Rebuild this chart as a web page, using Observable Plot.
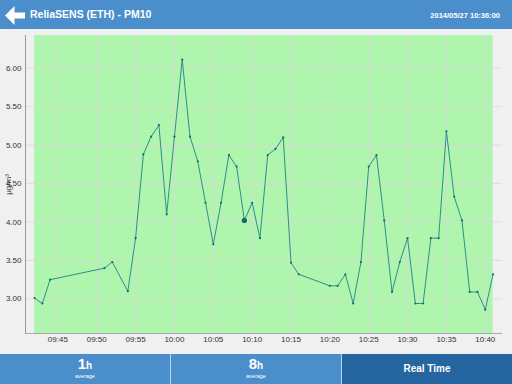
<!DOCTYPE html>
<html><head><meta charset="utf-8">
<script src="https://cdn.jsdelivr.net/npm/d3@7"></script>
<script src="https://cdn.jsdelivr.net/npm/@observablehq/plot@0.6"></script>
<style>
body{margin:0;width:512px;height:384px;overflow:hidden;background:#f0f0f0;font-family:"Liberation Sans",Arial,Helvetica,sans-serif;position:relative}
#hdr{position:absolute;left:0;top:0;width:512px;height:29px;background:#4a8fcc;color:#fff}
#title{position:absolute;left:30px;top:8px;font-size:10.5px;font-weight:bold;white-space:nowrap}
#date{position:absolute;right:12px;top:11px;font-size:7.5px;font-weight:bold;white-space:nowrap}
#arrow{position:absolute;left:5px;top:6px}
#chart{position:absolute;left:0;top:35px}
#bar{position:absolute;left:0;top:354px;width:512px;height:30px;display:flex}
.btn{height:30px;background:#4a8fcc;color:#fff;text-align:center;position:relative;font-weight:bold}
.b1{width:170px;border-right:1px solid #b9d3ea}
.b2{width:170px;border-right:1px solid #b9d3ea}
.b3{flex:1;background:#2565a0}
.big{position:absolute;left:0;right:0;top:2px;font-size:15px;line-height:16px}
.big span{font-size:10px}
.small{position:absolute;left:0;right:0;top:19px;font-size:5.5px;font-weight:normal}
.rt{position:absolute;left:0;right:0;top:9px;font-size:10px}
</style></head>
<body>
<div id="hdr">
<svg id="arrow" width="20" height="19" viewBox="0 0 20 19"><path d="M9.5 0 L0 9.5 L9.5 19 L9.5 12.5 L20 12.5 L20 6.5 L9.5 6.5 Z" fill="#fff"/></svg>
<div id="title">ReliaSENS (ETH) - PM10</div>
<div id="date">2014/05/27 10:36:00</div>
</div>
<div id="chart"></div>
<div id="bar">
<div class="btn b1"><div class="big">1<span>h</span></div><div class="small">average</div></div>
<div class="btn b2"><div class="big">8<span>h</span></div><div class="small">average</div></div>
<div class="btn b3"><div class="rt">Real Time</div></div>
</div>
<script>
const times = ["09:42","09:43","09:44","09:51","09:52","09:54","09:55","09:56","09:57","09:58","09:59","10:00","10:01","10:02","10:03","10:04","10:05","10:06","10:07","10:08","10:09","10:10","10:11","10:12","10:13","10:14","10:15","10:16","10:20","10:21","10:22","10:23","10:24","10:25","10:26","10:27","10:28","10:29","10:30","10:31","10:32","10:33","10:34","10:35","10:36","10:37","10:38","10:39","10:40","10:41"];
const values = [3.01,2.94,3.25,3.40,3.48,3.10,3.79,4.88,5.11,5.26,4.10,5.11,6.11,5.11,4.79,4.25,3.71,4.25,4.87,4.72,4.02,4.25,3.79,4.87,4.95,5.10,3.47,3.32,3.17,3.17,3.32,2.94,3.48,4.72,4.87,4.02,3.09,3.48,3.79,2.94,2.94,3.79,3.79,5.18,4.33,4.02,3.09,3.09,2.86,3.32];
const highlightTime = "10:09";
const yTicks = [3.0,3.5,4.0,4.5,5.0,5.5,6.0];
const yLabel = "µg/m³";

const toDate = s => { const [h,m] = s.split(":").map(Number); return new Date(Date.UTC(2014,4,27,h,m,0)); };
const data = times.map((t,i) => ({t: toDate(t), v: values[i]}));
const hi = data.filter((d,i) => times[i] === highlightTime);
const yDomain = [2.55, 6.425];
const xDomain = [new Date(Date.UTC(2014,4,27,9,40,50)), new Date(Date.UTC(2014,4,27,10,42,13))];

const plot = Plot.plot({
  width: 512, height: 315,
  marginLeft: 25, marginRight: 10, marginTop: 0, marginBottom: 17,
  style: {background: "transparent", fontFamily: "Liberation Sans, Arial, sans-serif", fontSize: "8px", color: "#333"},
  x: {type: "utc", domain: xDomain},
  y: {domain: yDomain},
  marks: [
    Plot.rect([0], {x1: () => data[0].t, x2: () => data[data.length-1].t, y1: () => yDomain[0], y2: () => yDomain[1], fill: "#b0f5ae"}),
    Plot.gridX(d3.utcMinute.every(5).range(xDomain[0], xDomain[1]), {stroke: "#d8d8d8", strokeOpacity: 0.8}),
    Plot.gridY(yTicks, {stroke: "#d8d8d8", strokeOpacity: 0.8}),
    Plot.axisX(d3.utcMinute.every(5).range(xDomain[0], xDomain[1]), {tickFormat: d3.utcFormat("%H:%M"), tickSize: 0, tickPadding: 3, label: null, fill: "#333"}),
    Plot.axisY(yTicks, {tickFormat: d3.format(".2f"), tickSize: 0, tickPadding: 4, label: yLabel, labelAnchor: "center", labelArrow: "none", labelOffset: 20, fill: "#333"}),
    Plot.ruleX([xDomain[0]], {stroke: "#999", strokeWidth: 1}),
    Plot.ruleY([yDomain[0]], {stroke: "#aaa", strokeWidth: 1}),
    Plot.line(data, {x: "t", y: "v", stroke: "#2b8f8c", strokeWidth: 1}),
    Plot.dot(data, {x: "t", y: "v", r: 1.1, fill: "#136b6b"}),
    Plot.dot(hi, {x: "t", y: "v", r: 2.6, fill: "#136b6b"})
  ]
});
document.getElementById("chart").appendChild(plot);
</script>
</body></html>
